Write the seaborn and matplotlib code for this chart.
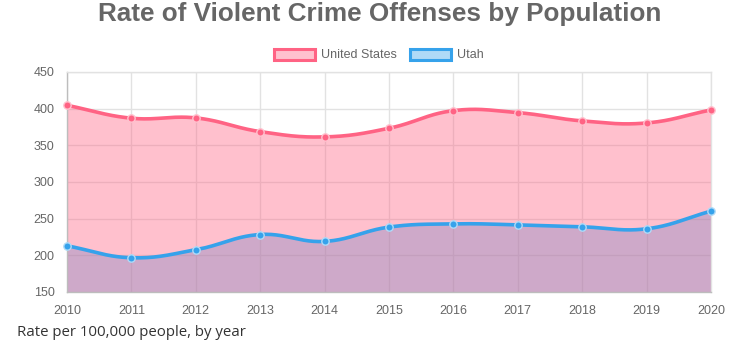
import numpy as np
import pandas as pd
import matplotlib
matplotlib.use("Agg")
import matplotlib.pyplot as plt
import seaborn as sns
from matplotlib.patches import Patch

years = list(range(2010, 2021))
us_rate = [404.6, 387.0, 387.4, 368.7, 361.5, 373.3, 397.3, 394.6, 383.3, 380.5, 398.3]
utah_rate = [213.0, 196.7, 207.6, 228.4, 219.0, 238.5, 242.9, 241.6, 238.9, 236.2, 260.3]
series_names = ["United States", "Utah"]
y_ticks = [150, 200, 250, 300, 350, 400, 450]
title_text = "Rate of Violent Crime Offenses by Population"
caption_text = "Rate per 100,000 people, by year"

line_colors = {"United States": (255/255, 99/255, 132/255), "Utah": (54/255, 162/255, 235/255)}

W, H = 743, 356
fig = plt.figure(figsize=(W/100, H/100), dpi=100)
sns.set_style("white")
plt.rcParams['font.family'] = ['Liberation Sans', 'DejaVu Sans']

L, R, T, B = 67, 711, 72, 292
ax = fig.add_axes([L/W, 1 - B/H, (R-L)/W, (B-T)/H])
ax.set_xlim(2010, 2020)
ax.set_ylim(150, 450)

sx = (R - L) / 10.0
sy = (B - T) / 300.0


def smooth(xs, ys, tension=0.4, n=40):
    px = np.asarray(xs, float) * sx
    py = np.asarray(ys, float) * sy
    m = len(px)
    cpn = np.zeros((m, 2)); cpp = np.zeros((m, 2))
    for i in range(m):
        p0 = np.array([px[max(i-1, 0)], py[max(i-1, 0)]])
        p1 = np.array([px[i], py[i]])
        p2 = np.array([px[min(i+1, m-1)], py[min(i+1, m-1)]])
        d01 = np.hypot(*(p1 - p0)); d12 = np.hypot(*(p2 - p1))
        tot = d01 + d12
        s01 = d01 / tot if tot else 0; s12 = d12 / tot if tot else 0
        fa = tension * s01; fb = tension * s12
        cpp[i] = p1 - fa * (p2 - p0)
        cpn[i] = p1 + fb * (p2 - p0)
    outx, outy = [], []
    t = np.linspace(0, 1, n)
    for i in range(m - 1):
        P0 = np.array([px[i], py[i]]); P1 = cpn[i]; P2 = cpp[i+1]; P3 = np.array([px[i+1], py[i+1]])
        c = ((1-t)**3)[:, None]*P0 + (3*(1-t)**2*t)[:, None]*P1 + (3*(1-t)*t**2)[:, None]*P2 + (t**3)[:, None]*P3
        if i > 0:
            c = c[1:]
        outx.extend(c[:, 0]); outy.extend(c[:, 1])
    return np.array(outx) / sx, np.array(outy) / sy

curves = {}
for name, vals in zip(series_names, [us_rate, utah_rate]):
    cx, cy = smooth(years, vals)
    curves[name] = pd.DataFrame({"year": cx, "rate": cy, "series": name})

# fills: Utah below, US on top
ux = curves["Utah"]
ax.fill_between(ux["year"], ux["rate"], 150, color=line_colors["Utah"], alpha=0.4, lw=0, zorder=1)
usx = curves["United States"]
ax.fill_between(usx["year"], usx["rate"], 150, color=line_colors["United States"], alpha=0.4, lw=0, zorder=2)

for name in ["Utah", "United States"]:
    sns.lineplot(data=curves[name], x="year", y="rate", color=line_colors[name], lw=2.6,
                 estimator=None, sort=False, ax=ax, zorder=4, legend=False)

pts = pd.DataFrame({"year": years * 2, "rate": us_rate + utah_rate,
                    "series": ["United States"] * len(years) + ["Utah"] * len(years)})
for name in series_names:
    d = pts[pts["series"] == name]
    c = line_colors[name]
    light = tuple(1 - 0.4 * (1 - v) for v in c)
    sns.scatterplot(data=d, x="year", y="rate", color=c, s=28, edgecolor=light, linewidth=1.0,
                    ax=ax, zorder=5, legend=False, clip_on=False)

ax.set_xticks(years)
ax.set_xticklabels([str(y) for y in years])
ax.set_yticks(y_ticks)
ax.set_xlabel(""); ax.set_ylabel("")
ax.grid(True, color="#e2e2e2", lw=1, zorder=0)
ax.set_axisbelow(True)
for s in ["top", "right"]:
    ax.spines[s].set_color("#e2e2e2")
for s in ["left", "bottom"]:
    ax.spines[s].set_color("#bdbdbd")
for s in ax.spines.values():
    s.set_linewidth(1)
ax.tick_params(axis="both", length=7, color="#dcdcdc", labelcolor="#666666", labelsize=9, pad=2)

fig.text(380/W, 1 - 14/H, title_text, ha="center", va="center", fontsize=18.8, fontweight="bold",
         color="#666666")

handles = [Patch(facecolor=tuple(1 - 0.4*(1-v) for v in line_colors[n]), edgecolor=line_colors[n],
                 linewidth=2.2, label=n) for n in series_names]
fig.legend(handles=handles, loc="center", bbox_to_anchor=(0.51, 1 - 55/H), ncol=2, frameon=False,
           fontsize=9, handlelength=3.3, handleheight=1.0, handletextpad=0.5, columnspacing=1.0,
           labelcolor="#666666")

fig.text(17/W, 1 - 333/H, caption_text, ha="left", va="center", fontsize=10.8, color="#333333",
         family=["Open Sans", "DejaVu Sans"])

fig.savefig("out.png", dpi=100)
